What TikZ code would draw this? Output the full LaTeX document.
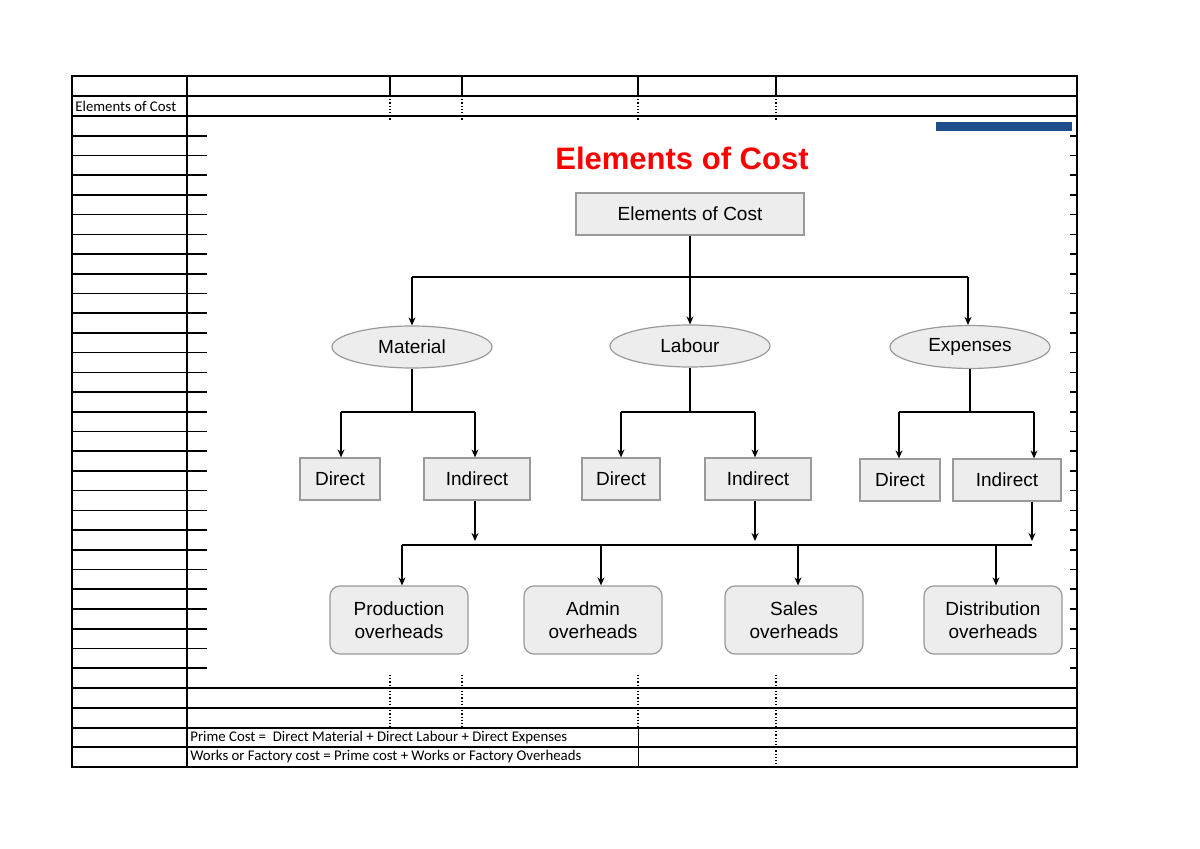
\documentclass[tikz,border=0pt]{standalone}
\usepackage{fontspec}
\setmainfont{Liberation Sans}
\newfontfamily\calfont{Carlito}
\usetikzlibrary{shapes.geometric,arrows.meta}
\definecolor{bx}{HTML}{EDEDED}
\definecolor{bd}{HTML}{9A9A9A}
\definecolor{bar}{HTML}{1F4E8C}
\begin{document}
\begin{tikzpicture}[x=0.5pt,y=-0.5pt,
 grid/.style={line width=0.8pt},
 dgrid/.style={line width=0.6pt,densely dotted},
 box/.style={draw=bd,fill=bx,line width=0.6pt,minimum height=21pt,font=\fontsize{9.5}{11}\selectfont,inner sep=2pt},
 ell/.style={ellipse,draw=bd,fill=bx,line width=0.6pt,minimum width=80pt,minimum height=21pt,font=\fontsize{9.5}{11}\selectfont},
 ov/.style={draw=bd,fill=bx,line width=0.6pt,rounded corners=5pt,minimum width=69pt,minimum height=34pt,align=center,font=\fontsize{9.5}{11.5}\selectfont},
 con/.style={line width=0.6pt},
 arr/.style={line width=0.6pt,-{Stealth[length=4pt,width=3.5pt]}},
 cell/.style={font=\calfont\fontsize{7.4}{8}\selectfont,anchor=west,inner sep=1pt}]
\useasboundingbox (0,0) rectangle (1200,849);
% spreadsheet grid
\foreach \y in {96,116,688,708,728,747} \draw[grid] (72,\y) -- (1077,\y);
\foreach \i in {1,...,28} \draw[grid] (72,{116+\i*19.72}) -- (207,{116+\i*19.72});
\foreach \i in {1,...,28} \draw[grid] (1070,{116+\i*19.72}) -- (1077,{116+\i*19.72});
\draw[grid] (187,76) -- (187,767);
\foreach \x in {390,462,638,776} {\draw[grid] (\x,76) -- (\x,96); \draw[dgrid] (\x,96) -- (\x,120);}
\foreach \x in {390,462} {\draw[dgrid] (\x,675) -- (\x,728);}
\foreach \x in {638,776} {\draw[dgrid] (\x,675) -- (\x,728);}
\draw[line width=0.5pt] (638,728) -- (638,767);
\draw[dgrid] (776,728) -- (776,767);
\draw[line width=1.4pt] (72,76) rectangle (1077,767);
\node[cell] (t0) at (73,106) {Elements of Cost};
\node[cell] (t1) at (188,738) {Prime Cost = \ Direct Material + Direct Labour + Direct Expenses};
\node[cell] (t2) at (188,757) {Works or Factory cost = Prime cost + Works or Factory Overheads};
\fill[bar] (936,122) rectangle (1072,131);
% diagram
\node[text=red,font=\bfseries\fontsize{15.5}{18}\selectfont] (title) at (682,158) {Elements of Cost};
\node[box,minimum width=114pt] (top) at (690,214) {Elements of Cost};
\node[ell] (mat) at (412,347) {Material};
\node[ell] (lab) at (690,346) {Labour};
\node[ell] (exp) at (970,347) {Expenses};
\node[box,minimum width=40pt] (d1) at (340,479) {Direct};
\node[box,minimum width=53pt] (i1) at (477,479) {Indirect};
\node[box,minimum width=39pt] (d2) at (621,479) {Direct};
\node[box,minimum width=53pt] (i2) at (758,479) {Indirect};
\node[box,minimum width=40pt] (d3) at (900,480) {Direct};
\node[box,minimum width=54pt] (i3) at (1007,480) {Indirect};
\node[ov] (o1) at (399,620) {Production\\overheads};
\node[ov] (o2) at (593,620) {Admin\\overheads};
\node[ov] (o3) at (794,620) {Sales\\overheads};
\node[ov] (o4) at (993,620) {Distribution\\overheads};
\coordinate (h1) at (690,277);
\draw[con] (top) -- (h1);
\draw[con] (412,277) -- (968,277);
\draw[arr] (h1) -- (lab.north);
\draw[arr] (412,277) -- (mat);
\draw[arr] (968,277) -- (exp.north-|968,0);
\foreach \e/\a/\b/\l/\r in {mat/d1/i1/341/475,lab/d2/i2/621/755,exp/d3/i3/899/1034}{
 \draw[con] (\e.south) -- (\e.south|-0,412);
 \draw[con] (\l,412) -- (\r,412);
 \draw[arr] (\l,412) -- (\a.north-|\l,0);
 \draw[arr] (\r,412) -- (\b.north-|\r,0);
}
\draw[arr] (i1.south-|475,0) -- (475,541);
\draw[arr] (i2.south-|755,0) -- (755,541);
\draw[arr] (i3.south-|1032,0) -- (1032,541);
\draw[con] (402,545) -- (1032,545);
\draw[arr] (402,545) -- (o1.north-|402,0);
\draw[arr] (601,545) -- (o2.north-|601,0);
\draw[arr] (798,545) -- (o3.north-|798,0);
\draw[arr] (996,545) -- (o4.north-|996,0);
\end{tikzpicture}
\end{document}
